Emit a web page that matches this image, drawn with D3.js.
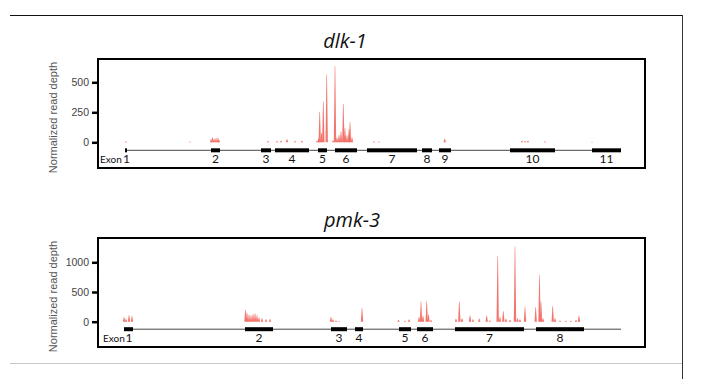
<!DOCTYPE html>
<html><head><meta charset="utf-8">
<script src="https://cdn.jsdelivr.net/npm/d3@7"></script>
<style>html,body{margin:0;padding:0;background:#fff;} svg{display:block;}</style>
</head><body>
<svg id="chart" width="702" height="379"></svg>
<script>
// ---------- DATA ----------
// gene positions are in track units (0 .. 547 across the panel)
const dlkTitle = "dlk-1";
const dlkExonStart = [27, 113, 163, 177, 220, 237, 269, 324, 341, 412, 494];
const dlkExonEnd   = [29, 122, 173, 211, 229, 259, 319, 334, 353, 457, 523];
const dlkExonLabel = ["1","2","3","4","5","6","7","8","9","10","11"];
const dlkGeneSpan  = [27, 523];
const dlkPos   = [28, 92, 113, 114.5, 116, 118, 120, 121, 170, 179, 183, 189, 197, 204, 219,
                  220.5, 221.7, 223.5, 225.3, 228.7, 235, 237, 239, 241, 243, 245.3, 247, 249, 251, 252, 254,
                  276, 281, 346.7, 424, 427, 430, 447, 494];
const dlkDepth = [8, 6, 25, 40, 30, 35, 38, 20, 10, 10, 12, 25, 10, 12, 10,
                  30, 255, 80, 340, 565, 15, 635, 40, 60, 90, 320, 120, 60, 110, 170, 40,
                  8, 6, 30, 12, 10, 12, 8, 5];
const dlkTicks = [0, 250, 500];
const dlkDomain = [-214, 694];

const pmkTitle = "pmk-3";
const pmkExonStart = [26, 147, 233, 257, 301, 319, 357, 438];
const pmkExonEnd   = [35, 175, 249, 265, 313, 335, 426, 486];
const pmkExonLabel = ["1","2","3","4","5","6","7","8"];
const pmkGeneSpan  = [26, 523];
const pmkPos   = [26, 28, 31, 34,
                  147.5, 149, 151, 153, 155, 157, 159, 161, 164, 168, 172,
                  233, 235, 238, 241, 264,
                  300.5, 307, 311,
                  321, 323, 325, 328.7, 330.5, 333,
                  358, 361.3, 364, 372, 375, 381.3, 388.7, 392, 399.7, 402, 405.3, 408, 412, 417, 419.5, 422, 427,
                  437.7, 441.5, 443, 445, 454.7, 457, 462, 468, 473, 478, 481];
const pmkDepth = [80, 50, 110, 90,
                  200, 150, 120, 110, 130, 140, 110, 70, 60, 40, 45,
                  80, 40, 20, 10, 225,
                  30, 15, 35,
                  80, 340, 100, 345, 120, 30,
                  50, 340, 60, 105, 40, 50, 100, 20, 1100, 80, 175, 50, 30, 1265, 60, 40, 255,
                  245, 790, 340, 60, 260, 60, 20, 15, 15, 30, 100];
const pmkTicks = [0, 500, 1000];
const pmkDomain = [-426, 1409];

const yAxisTitle = "Normalized read depth";
const exonWord = "Exon";

// ---------- DRAW ----------
const svg = d3.select("#chart");

// outer frame
svg.append("line").attr("x1", 10).attr("x2", 682).attr("y1", 15.5).attr("y2", 15.5).attr("stroke", "#111").attr("stroke-width", 1);
svg.append("line").attr("x1", 682.5).attr("x2", 682.5).attr("y1", 15).attr("y2", 379).attr("stroke", "#333").attr("stroke-width", 1);
svg.append("line").attr("x1", 10).attr("x2", 682).attr("y1", 363.5).attr("y2", 363.5).attr("stroke", "#c8c8c8").attr("stroke-width", 1);

function panel(cfg) {
  const left = 98, right = 645;
  const x = d3.scaleLinear().domain([0, right - left]).range([left, right]);
  const y = d3.scaleLinear().domain(cfg.domain).range([cfg.bottom, cfg.top]);
  const g = svg.append("g");

  // title
  g.append("text").attr("x", cfg.titleX).attr("y", cfg.top - 11)
    .attr("text-anchor", "middle").attr("font-family", "'Open Sans', 'Liberation Sans', sans-serif")
    .attr("font-style", "italic").attr("font-size", 20).attr("fill", "#111").text(cfg.title);

  // coverage spikes
  const area = d3.area().x(d => x(d[0])).y0(y(0)).y1(d => y(d[1]));
  cfg.pos.forEach((p, i) => {
    const v = cfg.depth[i];
    const w = 1.2;
    g.append("path").attr("d", area([[p - w, 0], [p - 0.25, v], [p + 0.25, v], [p + w, 0]]))
      .attr("fill", "#f2665e").attr("fill-opacity", 0.9);
  });

  // gene model
  const gy = y(0) + cfg.geneOffset;
  g.append("line").attr("x1", x(cfg.span[0])).attr("x2", x(cfg.span[1]))
    .attr("y1", gy).attr("y2", gy).attr("stroke", "#444").attr("stroke-width", 1);
  cfg.exStart.forEach((s, i) => {
    g.append("rect").attr("x", x(s)).attr("width", x(cfg.exEnd[i]) - x(s))
      .attr("y", gy - 2).attr("height", 4).attr("fill", "#000");
    g.append("text").attr("x", x((s + cfg.exEnd[i]) / 2) + (i === 0 ? 0.5 : 0)).attr("y", gy + 12.5)
      .attr("text-anchor", "middle").attr("font-family", "Lato, 'Open Sans', sans-serif")
      .attr("font-size", 12).attr("fill", "#111").text(cfg.labels[i]);
  });
  g.append("text").attr("x", left + cfg.exonWordDx).attr("y", gy + 12.5)
    .attr("font-family", "Lato, 'Open Sans', sans-serif").attr("font-size", 10)
    .attr("fill", "#111").text(exonWord);

  // y axis ticks
  const ax = d3.axisLeft(y).tickValues(cfg.ticks).tickFormat(d3.format("d")).tickSize(5).tickPadding(3);
  const axg = g.append("g").attr("transform", `translate(${left - 1},0)`).call(ax);
  axg.select(".domain").remove();
  axg.selectAll(".tick line").attr("stroke", "#000").attr("stroke-width", 2.5);
  axg.selectAll(".tick text").attr("font-family", "'Liberation Sans', Arial, sans-serif")
    .attr("font-size", 10.5).attr("fill", "#444");

  // axis title
  g.append("text").attr("transform", `translate(57,${(cfg.top + cfg.bottom) / 2 + 4}) rotate(-90)`)
    .attr("text-anchor", "middle").attr("font-family", "'Liberation Sans', Arial, sans-serif")
    .attr("font-size", 11).attr("fill", "#555").text(yAxisTitle);

  // frame
  g.append("rect").attr("x", left).attr("y", cfg.top).attr("width", right - left)
    .attr("height", cfg.bottom - cfg.top).attr("fill", "none").attr("stroke", "#000").attr("stroke-width", 2);
}

panel({title: dlkTitle, titleX: 345, top: 59, bottom: 168, domain: dlkDomain, ticks: dlkTicks,
       pos: dlkPos, depth: dlkDepth, exStart: dlkExonStart, exEnd: dlkExonEnd, labels: dlkExonLabel,
       span: dlkGeneSpan, geneOffset: 8, exonWordDx: 2});
panel({title: pmkTitle, titleX: 352, top: 238, bottom: 347, domain: pmkDomain, ticks: pmkTicks,
       pos: pmkPos, depth: pmkDepth, exStart: pmkExonStart, exEnd: pmkExonEnd, labels: pmkExonLabel,
       span: pmkGeneSpan, geneOffset: 7.5, exonWordDx: 5});
</script>
</body></html>
